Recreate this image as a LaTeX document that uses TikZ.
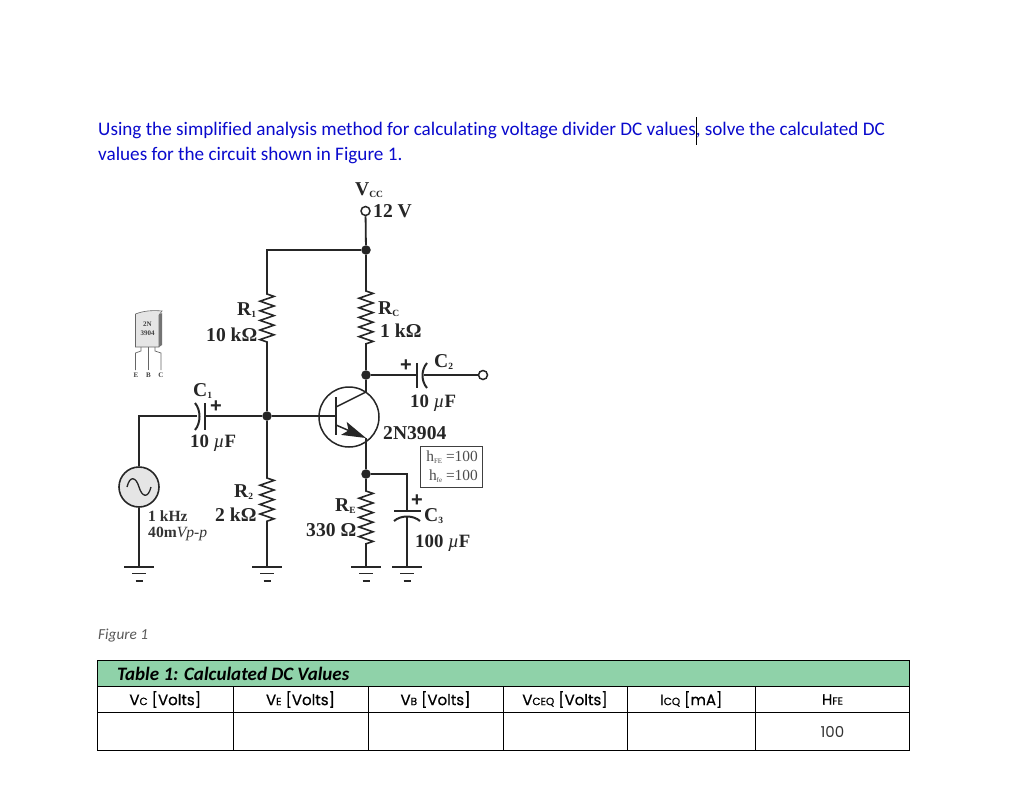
\documentclass[tikz,border=0pt]{standalone}
\usepackage{fontspec}
\setmainfont{Liberation Serif}
\newfontfamily\bodyfont[Ligatures=NoCommon]{Carlito}
\newfontfamily\headfont[FakeBold=0.6]{Poppins}
\newfontfamily\plainhead{Poppins}
\newfontfamily\plusfont{Liberation Sans}
\usetikzlibrary{positioning,arrows.meta,decorations.pathmorphing}
\definecolor{introblue}{HTML}{0A0ACD}
\definecolor{tablegreen}{HTML}{8FD2A9}
\newcommand{\lowsub}[1]{\raisebox{-2.5pt}{\fontsize{9.5}{9}\selectfont #1}}
\newcommand{\headsub}[1]{{\fontsize{10.5}{10}\selectfont #1}}
\tikzset{
  wire/.style={line width=1.8pt,black!85},
  res/.style={wire,line width=1.6pt,decorate,decoration={zigzag,segment length=9.6pt,amplitude=7pt,pre length=1pt,post length=1pt}},
  plate/.style={line width=2pt,black!85},
  dot/.style={circle,fill=black!85,inner sep=0pt,minimum size=9.5pt},
  term/.style={circle,draw=black!85,line width=1.5pt,fill=white,inner sep=0pt,minimum size=9pt},
  lab/.style={inner sep=0pt,anchor=west,font=\bfseries\fontsize{19.6}{22}\selectfont,text=black!85},
  faradlab/.style={lab,font=\bfseries\fontsize{18.8}{22}\selectfont},
  pluslab/.style={inner sep=0pt,font=\plusfont\bfseries\fontsize{20}{20}\selectfont,text=black!85},
  smalllab/.style={inner sep=0pt,anchor=west,font=\bfseries\fontsize{15.6}{16}\selectfont,text=black!80},
  intro/.style={inner sep=0pt,anchor=base west,text=introblue,font=\bodyfont\fontsize{19.17}{22}\selectfont},
  cell/.style={draw=black,line width=0.9pt,inner sep=0pt,outer sep=0pt,anchor=north west,font=\headfont\fontsize{15}{18}\selectfont},
  gnd/.pic={
    \draw[line width=1.8pt,black!85] (-15,0) -- (15,0);
    \draw[line width=1.8pt,black!85] (-7,6.5) -- (7,6.5);
    \draw[line width=2.2pt,black!85] (-3.5,14) -- (3.5,14);
  }
}
\begin{document}
\begin{tikzpicture}[x=1pt,y=-1pt]
  \useasboundingbox[fill=white] (0,0) rectangle (1009,800);

  % text above the circuit
  \node[intro] (line1) at (98,135) {Using the simplified analysis method for calculating voltage divider DC values, solve the calculated DC};
  \node[intro] (line2) at (98,160) {values for the circuit shown in Figure 1.};
  \coordinate (curtop) at (696,117);
  \coordinate (curbot) at (696,145);
  \draw[line width=0.8pt] (curtop) -- (curbot);

  % points of the circuit
  \node[term] (vcc) at (365.5,211) {};
  \node[dot] (top) at (366,250) {};
  \coordinate (topl) at (267,250);
  \coordinate (r1a) at (267,293);
  \coordinate (r1b) at (267,347);
  \node[dot] (base) at (267,416) {};
  \coordinate (r2a) at (267,477);
  \coordinate (r2b) at (267,527);
  \coordinate (gnda) at (139,567);
  \coordinate (gndb) at (267,567);
  \coordinate (gndc) at (366,567);
  \coordinate (gndd) at (407,567);
  \coordinate (rca) at (366,290);
  \coordinate (rcb) at (366,345);
  \node[dot] (coll) at (366,375) {};
  \node[term] (out) at (483,375) {};
  \node[circle,draw=black!85,line width=1.6pt,fill=black!10,minimum size=40pt,inner sep=0pt] (src) at (139,487) {};
  \node[circle,draw=black!85,line width=1.5pt,minimum size=60pt,inner sep=0pt] (qone) at (349,417) {};
  \coordinate (bar) at (336,416);
  \coordinate (bartop) at (336,397);
  \coordinate (barbot) at (336,435);
  \coordinate (cin) at (336,407);
  \coordinate (ein) at (336,425);
  \coordinate (cout) at (366,392);
  \coordinate (eout) at (366,438);
  \node[dot] (emit) at (366,474) {};
  \coordinate (rea) at (366,490);
  \coordinate (reb) at (366,547);
  \coordinate (c1l) at (139,416);
  \coordinate (c1a) at (197,416);
  \coordinate (c1b) at (205,416);
  \coordinate (c2a) at (417,375);
  \coordinate (c2b) at (424,375);
  \coordinate (c3r) at (407,474);
  \coordinate (c3a) at (407,511);
  \coordinate (c3b) at (407,517);

  % wires
  \draw[wire] (vcc) -- (top);
  \draw[wire] (top) -- (rca);
  \draw[wire] (top) -- (topl) -- (r1a);
  \draw[res] (r1a) -- (r1b);
  \draw[wire] (r1b) -- (base);
  \draw[wire] (base) -- (r2a);
  \draw[res] (r2a) -- (r2b);
  \draw[wire] (r2b) -- (gndb);
  \draw[res] (rca) -- (rcb);
  \draw[wire] (rcb) -- (coll);
  \draw[wire] (coll) -- (cout);
  \draw[wire] (coll) -- (c2a);
  \draw[wire] (c2b) -- (out);
  \draw[wire] (base) -- (bar);
  \draw[wire] (base) -- (c1b);
  \draw[wire] (c1a) -- (c1l) -- (src);
  \draw[wire] (src) -- (gnda);
  \draw[line width=2.2pt,black!85] (bartop) -- (barbot);
  \draw[line width=1.5pt,black!85] (cin) -- (cout);
  \draw[line width=1.5pt,black!85,-{Stealth[length=24pt,width=14pt,inset=5pt]}] (ein) -- (eout);
  \draw[wire] (eout) -- (emit);
  \draw[wire] (emit) -- (rea);
  \draw[res] (rea) -- (reb);
  \draw[wire] (reb) -- (gndc);
  \draw[wire] (emit) -- (c3r) -- (c3a);
  \draw[wire] (c3b) -- (gndd);

  % capacitors
  \draw[plate] (205,403) -- (205,430);
  \draw[plate] (195,403) .. controls (201,410) and (201,423) .. (195,430);
  \draw[plate] (417,363) -- (417,388);
  \draw[plate] (427,363) .. controls (421,370) and (421,381) .. (427,388);
  \draw[plate] (394,511) -- (421,511);
  \draw[plate] (394,521) .. controls (401,515) and (413,515) .. (420,521);

  % source
  \draw[line width=1.3pt,black!85] (127,487) .. controls (130,475) and (136,477) .. (139,487) .. controls (142,497) and (148,499) .. (151,487);

  % grounds
  \pic at (gnda) {gnd};
  \pic at (gndb) {gnd};
  \pic at (gndc) {gnd};
  \pic at (gndd) {gnd};

  % package of the transistor
  \fill[black!55] (159,315) -- (162,313) -- (162,345) -- (159,347) -- cycle;
  \draw[black!60,fill=black!10,line width=0.6pt] (135.5,314) .. controls (143,311) and (152,310) .. (162,311) -- (159,315) -- (159,347) -- (135.5,347) -- cycle;
  \draw[black!60,line width=0.7pt] (141,347) -- (141,351) -- (135.5,353) -- (135.5,370);
  \draw[black!60,line width=0.7pt] (148,347) -- (148,370);
  \draw[black!60,line width=0.7pt] (155,347) -- (155,351) -- (161,353) -- (161,370);
  \node[inner sep=0pt,align=center,font=\bfseries\fontsize{7}{9.5}\selectfont,text=black!75] (pkg) at (147.5,328.5) {2N\\3904};
  \node[inner sep=0pt,font=\bfseries\fontsize{7}{8}\selectfont,text=black!75] (pine) at (136,375) {E};
  \node[inner sep=0pt,font=\bfseries\fontsize{7}{8}\selectfont,text=black!75] (pinb) at (148.5,375) {B};
  \node[inner sep=0pt,font=\bfseries\fontsize{7}{8}\selectfont,text=black!75] (pinc) at (161,375) {C};

  % labels
  \node[lab] (lvcc) at (355,190) {V\lowsub{CC}};
  \node[lab] (lvolt) at (373,211) {12 V};
  \node[lab] (lrone) at (237,310) {R\lowsub{1}};
  \node[lab] (lrtenk) at (206,335) {10 kΩ};
  \node[lab] (lcone) at (193,391) {C\lowsub{1}};
  \node[pluslab] (lpone) at (216,407) {+};
  \node[faradlab] (lcten) at (190,443) {10 \textit{\textmd{µ}}F};
  \node[lab] (lrc) at (378,309) {R\lowsub{C}};
  \node[lab] (lrcv) at (380,331) {1 kΩ};
  \node[pluslab] (lptwo) at (406,366) {+};
  \node[lab] (lctwo) at (434,362) {C\lowsub{2}};
  \node[faradlab] (lcttwo) at (410,403) {10 \textit{\textmd{µ}}F};
  \node[lab] (lq) at (383,433) {2N3904};
  \node[lab] (lre) at (335,506) {R\lowsub{E}};
  \node[lab] (lrev) at (306,530) {330 Ω};
  \node[lab] (lrtwo) at (234,492) {R\lowsub{2}};
  \node[lab] (lrtwov) at (215,515) {2 kΩ};
  \node[smalllab] (lfreq) at (148,516) {1 kHz};
  \node[smalllab] (lamp) at (148,534) {40m\textit{\textmd{Vp-p}}};
  \node[pluslab] (lpthree) at (417,501) {+};
  \node[lab] (lcthree) at (424,516) {C\lowsub{3}};
  \node[faradlab] (lcv) at (415,543) {100 \textit{\textmd{µ}}F};

  % gain box
  \node[draw=black!75,line width=0.9pt,minimum width=62pt,minimum height=41pt,inner sep=0pt] (gainbox) at (451,466.5) {};
  \node[inner sep=0pt,anchor=east,text=black!70,font=\fontsize{15.4}{16}\selectfont] (gaina) at (478,457) {h\raisebox{-1.5pt}{\fontsize{7}{7}\selectfont FE} =100};
  \node[inner sep=0pt,anchor=east,text=black!70,font=\fontsize{15.4}{16}\selectfont] (gainb) at (478,476) {h\raisebox{-1.5pt}{\fontsize{7}{7}\selectfont fe} =100};

  % caption
  \node[inner sep=0pt,anchor=west,text=black!65,font=\bodyfont\itshape\fontsize{15.3}{16}\selectfont] (figcap) at (98,636) {Figure 1};

  % table
  \node[cell,fill=tablegreen,minimum width=812pt,minimum height=26.5pt] (title) at (97.5,660) {};
  \node[inner sep=0pt,anchor=west,font=\bodyfont\bfseries\itshape\fontsize{19}{20}\selectfont] (titletext) at (117,674) {Table 1: Calculated DC Values};
  \foreach \name/\xa/\cw/\txt in {vc/97.5/135.5/V\headsub{C} [Volts],ve/233/135/V\headsub{E} [Volts],vb/368/135/V\headsub{B} [Volts],vq/503/124/V\headsub{CEQ} [Volts],iq/627/128.5/I\headsub{CQ} [mA],hf/755.5/154/H\headsub{FE}}
  {
    \node[cell,minimum width=\cw pt,minimum height=26pt] (head\name) at (\xa,686.5) {\txt};
    \node[cell,minimum width=\cw pt,minimum height=37.5pt] (row\name) at (\xa,712.5) {};
  }
  \node[inner sep=0pt,text=black!80,font=\plainhead\fontsize{15}{18}\selectfont,yshift=-1pt] (hundred) at (rowhf.center) {100};
\end{tikzpicture}
\end{document}
